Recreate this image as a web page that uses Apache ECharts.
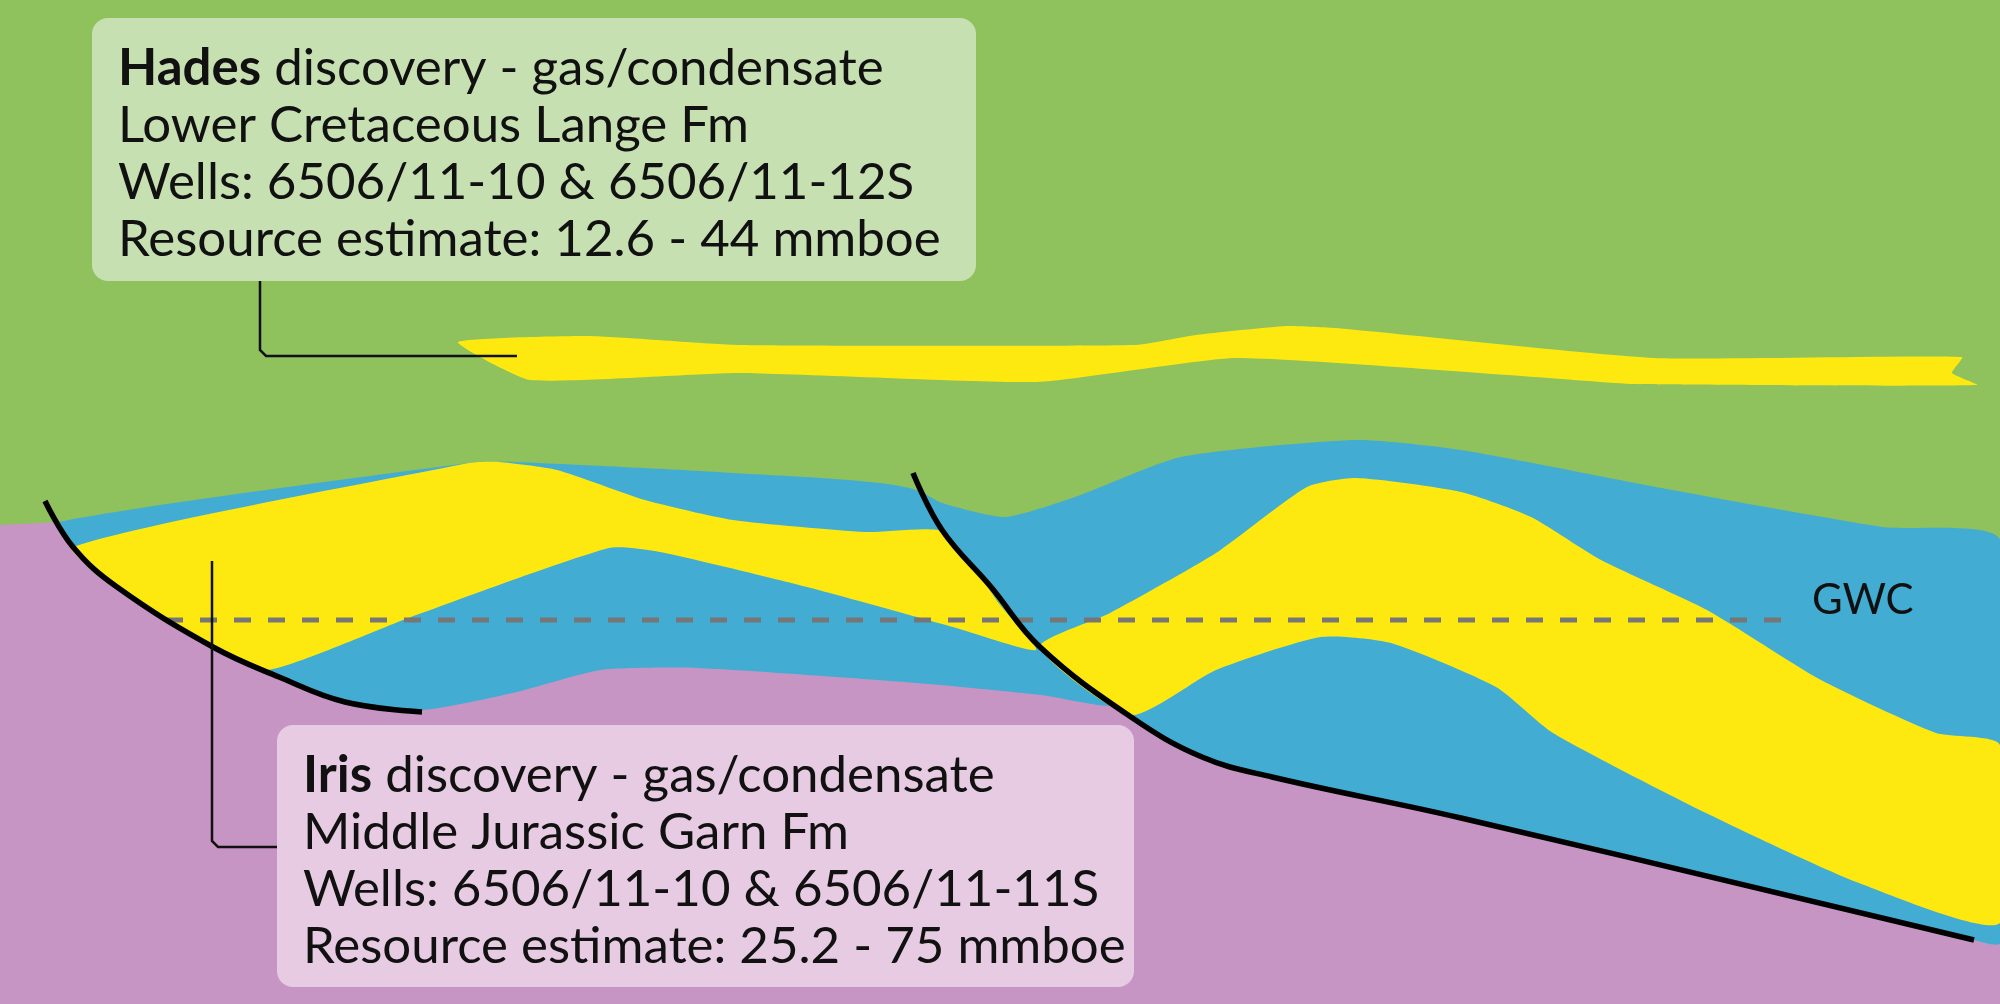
<!DOCTYPE html>
<html><head><meta charset="utf-8">
<script src="https://cdn.jsdelivr.net/npm/echarts@6/dist/echarts.min.js"></script>
<style>html,body{margin:0;padding:0;background:#8fc15c}#c{width:2000px;height:1004px}</style>
</head><body><div id="c"></div>
<script>
const W = 2000, H = 1004;
const purple = [[0,525],[59,522],[400,600],[900,650],[1100,700],[1500,820],[2000,940],[2000,1004],[0,1004]];
const blueLeft = [[59,522],[469,463],[513,462],[733,473],[913,489],[953,540],[1012,620],[1041,650],[1110,705],[1041,695],[917,683],[697,668],[601,670],[513,693],[422,710],[345,702],[279,677],[213,647],[117,587],[73,547]];
const yellowLeft = [[73,547],[469,463],[499,462],[557,470],[645,500],[733,520],[865,532],[945,532],[1000,605],[1036,650],[953,627],[807,587],[660,552],[609,548],[411,617],[268,670],[213,647],[117,587]];
const blueRight = [[916,490],[942,503],[1005,517],[1075,497],[1181,457],[1356,440],[1461,450],[1672,490],[1882,527],[2000,540],[2000,943],[1974,940],[1461,818],[1272,777],[1202,757],[1131,717],[1040,647],[991,587],[942,530]];
const yellowRight = [[1040,647],[1110,613],[1216,553],[1307,487],[1356,478],[1461,492],[1531,517],[1601,560],[1707,610],[1821,680],[1936,733],[2000,745],[2000,923],[1859,883],[1706,813],[1553,733],[1496,687],[1391,643],[1321,637],[1216,670],[1131,715]];
const hadesLens = [[458,342],[589,336],[739,345],[1136,345],[1196,335],[1286,326],[1336,328],[1654,358],[1962,357],[1952,373],[1977,385],[1634,384],[1535,377],[1236,358],[1037,382],[739,373],[530,380]];
const faultLeft = [[45,501],[73,547],[117,587],[213,647],[279,677],[345,702],[422,712]];
const faultRight = [[913,473],[942,530],[991,587],[1040,647],[1131,717],[1202,757],[1272,777],[1461,818],[1974,940]];
const gwc = [[166,620],[1792,620]];
const hadesLeader = [[260,281],[260,350],[266,356],[517,356]];
const irisLeader = [[212,561],[212,841],[218,847],[277,847]];
const hadesBox = [92,18,976,281];
const irisBox = [277,725,1134,987];
const hadesLines = ['{b|Hades} discovery - gas/condensate','Lower Cretaceous Lange Fm','Wells: 6506/11-10 & 6506/11-12S','Resource estimate: 12.6 - 44 mmboe'];
const irisLines = ['{b|Iris} discovery - gas/condensate','Middle Jurassic Garn Fm','Wells: 6506/11-10 & 6506/11-11S','Resource estimate: 25.2 - 75 mmboe'];
const gwcLabel = 'GWC';

const FONT = 'Lato';
function polySeries(pts, color, smooth){
  return {type:'custom', coordinateSystem:'cartesian2d', data:[pts[0]], silent:true,
    renderItem:(p, api)=>({type:'polygon', shape:{points:pts.map(q=>api.coord(q)), smooth:smooth}, style:{fill:color}})};
}
function lineSeries(pts, color, w, dash, smooth){
  return {type:'custom', coordinateSystem:'cartesian2d', data:[pts[0]], silent:true,
    renderItem:(p, api)=>({type:'polyline', shape:{points:pts.map(q=>api.coord(q)), smooth:smooth||0}, style:{stroke:color, lineWidth:w, lineDash:dash||null, fill:null}})};
}
function boxSeries(b, fill, lines){
  return {type:'custom', coordinateSystem:'cartesian2d', data:[[b[0],b[1]]], silent:true,
    renderItem:(p, api)=>{
      const a = api.coord([b[0],b[1]]), c = api.coord([b[2],b[3]]);
      return {type:'group', children:[
        {type:'rect', shape:{x:a[0], y:a[1], width:c[0]-a[0], height:c[1]-a[1], r:16}, style:{fill:fill}},
        {type:'text', x:a[0]+26, y:a[1]+22, style:{text:lines.join('\n'), fill:'#111', font:'51px '+FONT, lineHeight:57,
          rich:{b:{fontWeight:'bold', fontSize:51, fontFamily:FONT, fill:'#111', lineHeight:57}}}}
      ]};
    }};
}
const chart = echarts.init(document.getElementById('c'));
chart.setOption({
  animation:false,
  backgroundColor:'#8fc15c',
  grid:{left:0,right:0,top:0,bottom:0},
  xAxis:{type:'value', min:0, max:W, show:false},
  yAxis:{type:'value', min:0, max:H, inverse:true, show:false},
  series:[
    polySeries(purple,'#c795c3',0),
    polySeries(blueLeft,'#42acd2',0.2),
    polySeries(yellowLeft,'#fde910',0.2),
    polySeries(blueRight,'#42acd2',0.2),
    polySeries(yellowRight,'#fde910',0.2),
    polySeries(hadesLens,'#fde910',0.15),
    lineSeries(gwc,'#767676',5,[17,17]),
    lineSeries(faultLeft,'#000',5.5,null,0.4),
    lineSeries(faultRight,'#000',5.5,null,0.4),
    lineSeries(hadesLeader,'#111',2.5),
    lineSeries(irisLeader,'#111',2.5),
    boxSeries(hadesBox,'#c6e0b2',hadesLines),
    boxSeries(irisBox,'#e7cbe3',irisLines),
    {type:'custom', coordinateSystem:'cartesian2d', data:[[1812,600]], silent:true,
     renderItem:(p, api)=>{const c=api.coord([1812,600]); return {type:'text', x:c[0], y:c[1], style:{text:gwcLabel, font:'42px '+FONT, fill:'#111', verticalAlign:'middle'}};}}
  ]
});
</script></body></html>
